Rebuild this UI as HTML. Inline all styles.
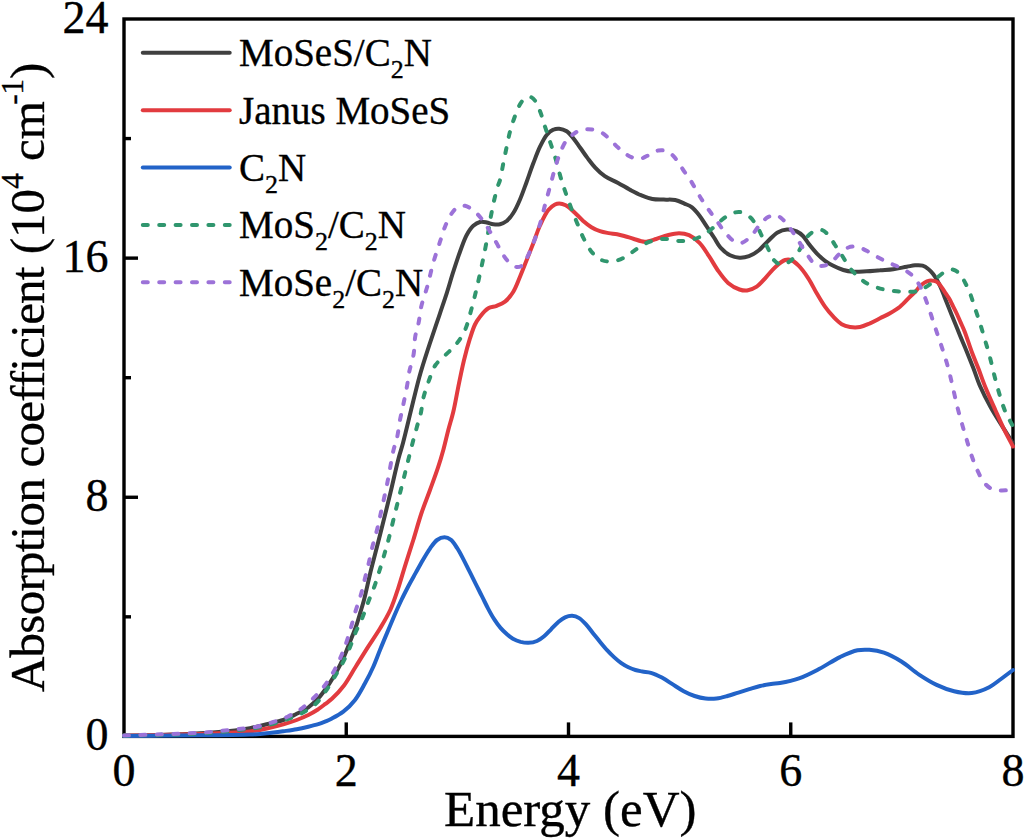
<!DOCTYPE html>
<html><head><meta charset="utf-8"><style>html,body{margin:0;padding:0;background:#fff;}svg{display:block;}</style></head>
<body><svg width="1025" height="840" viewBox="0 0 1025 840">
<rect width="1025" height="840" fill="#fff"/>
<rect x="124" y="19" width="889" height="717.4" fill="none" stroke="#000" stroke-width="3.4"/>
<g stroke="#000" stroke-width="3.4"><line x1="124" y1="497.27" x2="138" y2="497.27"/><line x1="124" y1="258.13" x2="138" y2="258.13"/><line x1="124" y1="616.83" x2="131" y2="616.83"/><line x1="124" y1="377.70" x2="131" y2="377.70"/><line x1="124" y1="138.57" x2="131" y2="138.57"/><line x1="346.25" y1="736.4" x2="346.25" y2="722.4"/><line x1="568.50" y1="736.4" x2="568.50" y2="722.4"/><line x1="790.75" y1="736.4" x2="790.75" y2="722.4"/></g>
<path d="M124.0,735.6 C136.0,735.4 147.7,735.4 160.0,735.0 C173.0,734.6 187.1,734.1 200.0,733.3 C212.1,732.6 225.8,731.5 235.0,730.5 C241.1,729.8 244.9,729.3 250.0,728.3 C255.4,727.2 261.1,725.6 266.7,724.2 C272.2,722.8 278.1,721.8 283.3,720.0 C288.1,718.3 292.4,715.9 296.7,713.8 C300.7,711.8 304.6,710.2 308.3,707.5 C312.4,704.5 316.5,700.4 320.0,696.4 C323.5,692.4 326.6,687.6 329.5,683.3 C332.2,679.3 334.4,675.6 336.7,671.4 C339.2,666.9 341.5,662.2 343.8,657.1 C346.3,651.5 348.7,645.0 351.0,639.3 C353.1,634.0 355.2,628.7 356.9,623.8 C358.3,619.6 359.3,615.9 360.5,611.9 C361.7,607.9 362.7,604.8 364.0,600.0 C365.9,592.7 368.1,582.0 370.5,572.0 C373.3,560.5 376.8,547.8 380.0,535.0 C383.4,521.4 387.3,506.0 390.5,492.6 C393.4,480.5 396.2,467.3 398.6,458.2 C400.2,452.1 401.4,449.1 403.0,443.0 C405.4,434.0 408.5,420.6 411.2,409.6 C413.9,398.7 416.5,387.4 419.3,377.2 C421.9,367.9 424.6,359.5 427.4,350.9 C430.1,342.6 433.2,333.5 435.5,326.6 C437.2,321.5 438.4,318.2 440.0,313.3 C442.0,307.3 444.5,300.1 446.7,293.3 C449.0,286.3 451.0,278.7 453.3,271.7 C455.5,264.9 457.7,258.0 460.0,251.7 C462.2,245.8 464.2,239.6 466.7,235.0 C468.7,231.3 470.8,228.0 473.3,225.8 C475.3,224.0 477.7,222.5 480.0,222.0 C482.2,221.5 484.5,222.1 486.7,222.5 C488.9,222.9 491.1,223.9 493.3,224.2 C495.5,224.5 497.8,224.7 500.0,224.2 C502.3,223.7 504.6,222.6 506.7,221.0 C509.1,219.1 511.3,216.2 513.3,213.0 C515.8,209.2 517.9,204.4 520.0,199.5 C522.4,194.0 524.5,187.7 526.7,181.7 C528.9,175.6 531.0,169.3 533.3,163.3 C535.5,157.6 537.6,151.7 540.0,146.7 C542.1,142.4 544.2,138.0 546.7,135.0 C548.7,132.6 551.0,130.7 553.3,129.7 C555.2,128.8 557.1,128.5 559.2,128.7 C561.6,128.9 564.4,129.8 566.7,131.3 C569.2,132.9 571.2,135.7 573.3,138.3 C575.6,141.1 577.7,144.3 580.0,147.5 C582.5,150.9 585.0,154.7 587.6,158.1 C590.1,161.4 592.4,164.6 595.2,167.6 C598.1,170.7 601.2,173.7 604.8,176.2 C608.7,178.9 613.9,180.6 618.1,182.9 C622.1,185.1 625.7,187.4 629.5,189.5 C633.3,191.5 637.1,193.6 641.0,195.2 C644.8,196.7 648.6,198.3 652.4,199.0 C656.2,199.7 660.0,199.4 663.8,199.6 C667.6,199.8 671.6,199.3 675.2,200.0 C678.6,200.7 681.9,202.5 684.8,203.8 C687.4,204.9 689.8,205.6 692.0,207.3 C694.5,209.2 696.7,212.1 699.0,215.0 C701.6,218.3 704.0,222.5 706.5,226.2 C709.0,230.0 711.6,233.8 714.0,237.5 C716.3,241.0 717.8,244.7 720.5,247.6 C723.2,250.6 726.6,253.5 730.0,255.2 C733.0,256.7 736.3,257.5 739.5,257.7 C742.7,257.9 745.9,257.3 749.0,256.2 C752.3,255.0 755.5,252.9 758.6,250.5 C761.9,247.9 764.9,244.0 768.1,241.0 C771.2,238.0 774.2,234.3 777.6,232.4 C780.6,230.7 783.9,229.7 787.1,229.5 C790.3,229.3 793.9,230.2 796.7,231.4 C799.2,232.5 801.1,234.1 803.0,236.0 C805.0,238.0 806.3,240.7 808.3,243.3 C810.7,246.4 813.8,250.3 816.7,253.3 C819.4,256.1 822.1,258.7 825.0,260.8 C827.7,262.8 830.3,264.3 833.3,265.8 C836.4,267.4 839.9,269.0 843.3,270.0 C846.6,271.0 849.7,271.5 853.3,271.7 C857.4,272.0 862.2,271.5 866.7,271.3 C871.1,271.1 875.6,270.6 880.0,270.3 C884.4,269.9 888.9,269.8 893.3,269.2 C897.8,268.6 902.8,267.4 906.7,266.7 C909.8,266.2 912.3,265.5 915.0,265.3 C917.6,265.1 920.3,264.9 922.6,265.6 C924.7,266.2 926.6,267.6 928.3,269.0 C930.1,270.4 931.7,272.2 933.1,274.0 C934.5,275.8 935.7,277.7 936.9,279.8 C938.2,282.1 939.5,284.7 940.7,287.4 C942.0,290.4 943.2,293.7 944.5,296.9 C945.8,300.1 947.0,303.2 948.3,306.4 C949.6,309.6 950.8,312.8 952.1,316.0 C953.4,319.2 954.7,322.3 956.0,325.5 C957.3,328.8 958.5,331.8 960.0,335.5 C961.9,340.2 964.5,346.1 966.7,351.5 C968.9,356.9 971.1,362.4 973.3,368.0 C975.6,373.9 977.3,379.8 980.0,386.0 C983.0,392.9 987.1,400.8 990.7,407.2 C993.8,412.8 997.0,417.8 1000.0,422.6 C1002.7,427.0 1005.5,431.2 1007.8,435.0 C1009.7,438.1 1011.3,440.7 1013.0,443.5" fill="none" stroke="#404040" stroke-width="4" stroke-linecap="round" stroke-linejoin="round"/><path d="M124.0,735.8 C149.3,735.2 179.5,734.7 200.0,734.0 C213.9,733.5 225.8,733.0 235.0,732.5 C241.0,732.2 244.9,732.1 250.0,731.5 C255.4,730.8 261.2,729.7 266.7,728.5 C272.3,727.3 278.1,725.9 283.3,724.4 C288.0,723.0 292.4,721.6 296.7,720.0 C300.7,718.5 304.6,716.8 308.3,715.0 C311.8,713.2 315.3,711.1 318.3,709.2 C320.8,707.5 322.8,705.9 325.0,704.2 C327.3,702.4 329.4,701.1 331.9,698.8 C335.5,695.5 340.0,690.7 343.8,685.7 C348.0,680.1 351.7,673.0 355.7,666.7 C359.7,660.3 363.6,653.9 367.6,647.6 C371.7,641.2 376.1,634.9 380.0,628.5 C383.8,622.2 387.5,616.1 390.5,609.5 C393.5,602.8 395.7,595.9 398.1,588.6 C400.7,580.7 403.1,572.0 405.7,563.8 C408.2,555.8 410.7,548.2 413.3,540.0 C416.0,531.3 418.6,521.6 421.5,513.0 C424.2,505.0 427.2,497.7 430.0,490.0 C432.8,482.3 436.0,473.8 438.3,466.7 C440.3,460.7 441.7,455.8 443.3,450.0 C445.0,443.7 446.6,436.5 448.3,430.0 C449.9,423.8 451.8,418.1 453.3,411.7 C455.0,404.6 456.2,397.2 457.8,389.3 C459.6,380.4 461.7,369.8 463.8,361.0 C465.7,353.1 467.8,345.3 469.9,338.7 C471.6,333.4 473.1,328.4 475.0,324.5 C476.5,321.4 478.0,319.2 480.0,316.7 C482.3,313.8 485.3,310.1 488.3,308.3 C490.9,306.7 494.0,306.9 496.7,305.8 C499.5,304.7 502.4,303.7 505.0,301.7 C508.0,299.3 510.9,295.6 513.3,291.7 C516.0,287.4 517.8,281.9 520.0,276.7 C522.3,271.3 524.5,265.6 526.7,260.0 C528.9,254.4 531.1,249.0 533.3,243.3 C535.5,237.5 537.4,231.1 540.0,225.5 C542.5,220.1 545.3,213.7 548.3,210.0 C550.4,207.4 552.9,205.6 555.0,204.5 C556.5,203.7 557.7,203.4 559.3,203.4 C561.2,203.4 563.5,204.1 565.7,205.2 C568.5,206.7 571.5,209.7 574.3,212.2 C577.2,214.8 580.0,218.1 582.9,220.7 C585.7,223.1 588.5,225.4 591.4,227.2 C594.2,228.9 597.1,230.2 600.0,231.2 C602.8,232.2 605.7,232.6 608.6,233.1 C611.5,233.6 614.4,233.8 617.2,234.3 C619.9,234.8 622.4,235.5 625.0,236.2 C627.7,236.9 630.3,237.9 633.3,238.7 C636.8,239.7 641.0,241.7 644.8,241.7 C648.6,241.7 652.4,240.1 656.2,239.0 C660.0,237.9 663.8,236.2 667.6,235.2 C671.4,234.3 675.3,233.3 679.0,233.3 C682.4,233.3 685.8,233.8 689.0,235.2 C692.6,236.8 696.3,239.7 699.5,242.9 C703.1,246.5 705.9,251.6 709.0,256.2 C712.3,261.1 715.3,266.8 718.6,271.4 C721.6,275.6 724.5,279.8 728.1,282.9 C731.5,285.8 736.0,288.3 739.5,289.5 C742.2,290.4 744.5,290.8 747.1,290.5 C750.2,290.1 753.7,288.7 756.7,286.7 C760.1,284.4 763.1,280.4 766.2,277.1 C769.4,273.7 772.4,269.6 775.7,266.7 C778.7,264.0 782.3,260.9 785.2,260.0 C787.3,259.3 789.0,259.3 791.0,260.0 C793.5,260.8 796.1,263.2 798.6,265.7 C801.9,268.9 805.3,273.8 808.3,278.3 C811.4,283.0 813.9,288.5 816.7,293.3 C819.4,297.9 822.1,302.7 825.0,306.7 C827.6,310.4 830.4,313.7 833.3,316.7 C836.0,319.5 838.7,322.5 841.7,324.2 C844.3,325.7 847.1,326.5 850.0,327.0 C853.1,327.5 856.7,327.6 860.0,327.0 C863.4,326.4 866.7,324.7 870.0,323.3 C873.4,321.8 876.7,320.0 880.0,318.3 C883.3,316.6 886.7,315.2 890.0,313.3 C893.4,311.3 896.8,309.3 900.0,306.7 C903.5,303.9 907.2,299.4 910.0,296.7 C911.9,294.8 913.4,293.8 915.0,292.1 C916.7,290.4 918.1,288.0 919.8,286.4 C921.3,284.9 922.8,283.6 924.5,282.6 C926.0,281.7 927.7,281.0 929.3,280.7 C930.8,280.4 932.5,280.6 934.0,280.9 C935.4,281.2 936.7,281.7 937.9,282.6 C939.3,283.7 940.5,285.7 941.7,287.4 C943.0,289.2 944.2,291.2 945.5,293.1 C946.8,295.0 948.1,296.7 949.3,298.8 C950.6,301.1 951.8,303.9 953.1,306.4 C954.4,308.9 955.7,311.4 956.9,314.0 C958.2,316.8 959.4,319.7 960.7,322.6 C962.0,325.5 963.1,327.7 964.5,331.2 C966.6,336.5 969.3,345.2 971.7,351.7 C973.9,357.5 976.1,362.6 978.3,368.3 C980.7,374.5 982.8,380.9 985.5,387.5 C988.5,394.8 992.3,403.2 995.4,410.2 C998.1,416.3 1000.3,421.5 1003.1,427.3 C1006.1,433.6 1009.7,440.1 1013.0,446.5" fill="none" stroke="#e23b3f" stroke-width="4" stroke-linecap="round" stroke-linejoin="round"/><path d="M124.0,735.9 C149.3,735.7 177.3,735.5 200.0,735.3 C218.4,735.1 237.8,735.2 250.0,734.6 C257.1,734.3 261.1,733.9 266.7,733.3 C272.2,732.8 278.1,732.0 283.3,731.3 C288.0,730.6 292.4,730.0 296.7,729.2 C300.7,728.5 304.6,727.6 308.3,726.7 C311.8,725.9 315.3,725.1 318.3,724.2 C320.8,723.4 322.8,722.6 325.0,721.7 C327.1,720.8 328.7,720.2 331.0,719.0 C334.4,717.2 339.4,714.7 343.3,711.7 C347.5,708.5 351.5,704.5 355.0,700.0 C358.8,695.1 361.9,688.9 365.0,683.3 C368.0,677.8 370.8,672.3 373.3,666.7 C375.8,661.2 377.7,655.6 380.0,650.0 C382.3,644.3 384.7,638.6 387.1,632.9 C389.5,627.2 391.9,621.3 394.3,615.7 C396.6,610.3 399.0,605.1 401.4,600.0 C403.7,595.1 406.2,590.3 408.6,585.7 C410.9,581.3 413.3,577.2 415.7,572.9 C418.1,568.6 420.5,564.1 422.9,560.0 C425.2,556.1 427.5,552.1 430.0,548.6 C432.3,545.4 434.4,541.9 437.1,540.0 C439.3,538.4 442.1,537.3 444.5,537.3 C446.7,537.3 449.0,538.3 451.0,539.8 C453.4,541.6 455.2,545.2 457.2,548.2 C459.4,551.5 461.3,555.3 463.3,559.1 C465.4,563.1 467.4,567.3 469.5,571.4 C471.6,575.5 473.6,579.7 475.7,583.8 C477.8,587.9 479.8,592.1 481.9,596.2 C484.0,600.3 486.0,604.6 488.1,608.6 C490.1,612.4 492.1,616.1 494.3,619.4 C496.3,622.5 498.3,625.4 500.5,627.9 C502.5,630.2 504.6,632.2 506.7,634.1 C508.7,635.9 510.6,637.5 512.9,638.8 C515.2,640.1 518.0,641.2 520.6,641.9 C523.1,642.5 525.7,642.9 528.4,642.8 C531.2,642.7 534.4,642.1 537.0,641.0 C539.6,639.9 541.8,638.2 544.1,636.3 C546.5,634.3 548.8,631.6 551.1,629.3 C553.4,626.9 555.7,624.3 558.1,622.2 C560.4,620.3 562.6,618.4 565.1,617.3 C567.4,616.3 569.9,615.7 572.2,615.8 C574.6,615.9 577.0,616.8 579.2,618.1 C581.7,619.6 584.0,622.2 586.2,624.6 C588.6,627.2 590.9,630.5 593.2,633.4 C595.6,636.3 597.9,639.3 600.3,642.2 C602.6,645.0 604.9,647.8 607.3,650.4 C609.6,652.9 611.9,655.2 614.3,657.4 C616.6,659.5 618.9,661.5 621.3,663.2 C623.6,664.8 626.0,666.2 628.4,667.3 C630.7,668.4 633.0,669.3 635.4,670.0 C637.7,670.7 639.9,671.0 642.4,671.5 C645.1,672.0 647.9,671.9 650.9,672.8 C654.4,673.8 658.3,675.7 661.9,677.6 C665.6,679.6 669.2,682.1 672.8,684.4 C676.4,686.7 680.0,689.2 683.7,691.2 C687.3,693.1 690.9,694.8 694.6,696.0 C698.2,697.2 701.9,698.1 705.6,698.5 C709.2,698.9 712.9,698.9 716.5,698.5 C720.2,698.1 723.8,697.0 727.4,696.0 C731.1,695.0 734.7,693.7 738.4,692.6 C742.0,691.5 745.7,690.3 749.3,689.2 C752.9,688.1 756.5,686.9 760.2,686.0 C763.8,685.1 767.6,684.5 771.1,684.0 C774.2,683.5 776.5,683.6 780.0,683.0 C785.2,682.1 792.7,680.6 799.0,678.4 C805.8,676.0 812.7,672.3 819.5,668.8 C826.4,665.2 833.3,660.3 840.0,657.1 C846.0,654.3 852.2,651.4 857.5,650.3 C861.7,649.4 865.2,649.5 869.3,649.8 C873.9,650.2 878.9,651.0 883.9,652.7 C889.6,654.7 895.7,658.0 901.4,661.5 C907.4,665.2 913.0,670.6 919.0,674.6 C924.8,678.4 930.6,682.1 936.6,684.9 C942.3,687.6 948.2,689.9 954.1,691.3 C959.9,692.6 965.9,693.7 971.7,693.1 C977.6,692.4 984.1,689.8 989.2,687.2 C993.7,684.9 997.1,681.8 1001.0,679.0 C1005.0,676.1 1009.0,673.0 1013.0,670.0" fill="none" stroke="#2263c8" stroke-width="4" stroke-linecap="round" stroke-linejoin="round"/><path d="M124.0,735.6 C149.3,734.9 179.5,734.7 200.0,733.5 C213.9,732.7 224.7,731.6 235.0,730.5 C243.1,729.6 250.1,729.0 256.7,727.8 C262.4,726.8 267.3,725.4 272.5,724.0 C277.6,722.6 282.6,721.0 287.5,719.2 C292.3,717.4 297.2,715.7 301.7,713.3 C306.3,710.8 311.1,708.0 315.0,704.5 C318.8,701.1 321.7,696.8 324.8,692.5 C328.1,687.9 331.3,682.4 334.3,677.4 C337.2,672.6 340.0,668.0 342.6,663.1 C345.2,658.1 347.6,652.8 349.8,647.6 C352.0,642.5 353.6,637.1 355.7,632.1 C357.8,627.2 360.3,622.7 362.3,617.9 C364.3,613.2 365.7,608.6 367.6,603.6 C369.7,598.2 372.3,592.2 374.3,586.7 C376.2,581.5 377.6,576.6 379.2,571.5 C380.8,566.4 382.3,561.4 383.8,556.2 C385.4,550.7 386.9,545.8 388.6,539.2 C391.0,530.1 393.9,517.6 396.6,506.8 C399.3,496.0 402.0,485.1 404.7,474.4 C407.3,463.9 410.2,452.0 412.5,443.3 C414.1,437.0 415.5,432.2 416.9,427.0 C418.2,422.2 419.7,418.1 420.8,413.3 C421.9,408.2 422.2,402.8 423.5,397.4 C425.0,391.5 427.3,384.8 429.4,379.2 C431.3,374.1 432.7,369.1 435.5,365.0 C438.2,361.1 442.2,358.3 445.6,354.9 C449.0,351.5 452.6,348.6 455.7,344.8 C459.1,340.6 462.3,336.0 464.8,330.6 C467.6,324.5 469.2,317.0 471.2,310.0 C473.2,302.9 475.0,295.2 476.7,288.3 C478.2,282.0 479.4,276.2 480.8,270.0 C482.2,263.5 483.7,256.5 485.0,250.0 C486.2,243.8 487.3,237.5 488.3,231.7 C489.2,226.5 489.9,221.8 490.8,216.7 C491.8,211.3 493.0,205.2 494.2,200.0 C495.3,195.4 496.4,190.6 497.5,187.0 C498.3,184.3 499.2,182.9 500.0,180.0 C501.2,175.7 502.2,168.9 503.3,163.3 C504.4,157.8 505.6,152.1 506.7,146.7 C507.8,141.6 508.7,136.5 510.0,131.7 C511.2,127.1 512.6,122.7 514.2,118.3 C515.7,114.0 517.2,109.3 519.2,105.8 C520.9,102.8 522.8,99.7 525.0,98.3 C526.8,97.2 529.1,96.5 530.8,97.0 C532.7,97.5 534.3,99.6 535.8,101.7 C537.8,104.6 539.3,109.3 540.8,113.3 C542.4,117.6 543.5,122.1 545.0,126.7 C546.6,131.6 548.3,136.7 550.0,141.7 C551.7,146.7 553.3,151.1 555.0,156.7 C557.1,163.6 559.4,173.4 561.4,180.0 C562.9,185.0 564.2,188.4 565.7,192.9 C567.4,197.7 569.2,202.8 571.1,207.9 C573.1,213.2 575.3,218.7 577.5,223.9 C579.6,229.0 581.4,234.1 583.9,238.9 C586.4,243.7 589.3,249.3 592.5,252.9 C595.1,255.9 598.2,258.4 601.1,259.8 C603.6,261.0 606.0,261.4 608.6,261.5 C611.4,261.6 614.5,261.1 617.2,260.4 C619.8,259.7 622.2,258.6 624.7,257.2 C627.5,255.7 630.2,253.5 633.3,251.4 C636.9,249.0 640.8,245.7 644.8,243.8 C648.5,242.0 652.4,240.8 656.2,240.0 C660.0,239.2 663.8,238.8 667.6,239.0 C671.4,239.2 675.2,240.8 679.0,241.0 C682.8,241.2 686.8,240.8 690.5,240.0 C694.2,239.2 698.0,237.9 701.4,236.2 C704.8,234.4 707.9,232.0 711.0,229.5 C714.3,226.9 717.3,223.6 720.5,221.0 C723.6,218.5 726.7,215.8 730.0,214.3 C733.0,212.9 736.4,211.7 739.5,212.0 C742.7,212.3 746.2,214.1 749.0,216.2 C752.0,218.5 754.5,222.3 756.7,225.7 C759.0,229.2 760.5,233.3 762.4,237.1 C764.3,240.9 766.2,244.8 768.1,248.6 C770.0,252.4 771.3,257.2 773.8,260.0 C775.9,262.3 778.8,264.5 781.4,264.8 C783.9,265.0 786.6,263.4 789.0,261.9 C791.8,260.1 794.6,257.0 796.7,254.3 C798.7,251.8 799.9,249.2 801.5,246.5 C803.2,243.6 804.6,240.0 806.7,237.5 C808.6,235.2 810.8,232.9 813.3,231.7 C815.8,230.5 819.2,229.4 821.7,230.0 C824.2,230.6 826.3,232.8 828.3,235.0 C830.8,237.6 832.8,241.7 835.0,245.0 C837.2,248.3 839.4,251.4 841.7,255.0 C844.4,259.1 847.0,264.5 850.0,268.3 C852.6,271.6 855.4,274.1 858.3,276.7 C861.0,279.1 863.6,281.5 866.7,283.3 C869.8,285.1 873.3,286.4 876.7,287.5 C880.0,288.6 883.3,289.4 886.7,290.0 C890.0,290.6 893.4,291.0 896.7,291.3 C900.0,291.6 903.4,291.7 906.7,291.7 C910.0,291.7 914.0,291.9 916.7,291.3 C918.7,290.9 919.9,290.1 921.7,289.2 C924.2,288.0 927.3,286.2 930.0,284.2 C932.9,282.1 935.5,279.0 938.3,276.7 C941.0,274.5 943.9,271.9 946.7,270.8 C948.9,269.9 951.2,269.2 953.3,269.7 C955.6,270.2 958.1,272.2 960.0,274.2 C962.1,276.4 963.4,279.5 965.0,282.5 C966.8,285.8 968.4,289.4 970.0,293.3 C971.8,297.8 973.3,303.3 975.0,308.3 C976.7,313.3 978.4,318.2 980.0,323.3 C981.7,328.7 983.4,334.4 985.0,340.0 C986.7,345.8 988.4,351.4 990.0,357.5 C991.7,364.0 993.3,371.4 995.0,378.0 C996.6,384.2 998.2,390.2 1000.0,396.0 C1001.7,401.5 1003.2,406.7 1005.4,411.8 C1007.6,416.9 1010.5,421.6 1013.0,426.5" fill="none" stroke="#30966e" stroke-width="4" stroke-linecap="round" stroke-linejoin="round" stroke-dasharray="5 11.4"/><path d="M124.0,735.5 C149.3,734.6 179.5,734.1 200.0,732.8 C213.9,731.9 224.7,730.6 235.0,729.5 C243.1,728.6 250.2,728.0 256.7,726.7 C262.2,725.6 266.7,724.1 271.7,722.5 C276.9,720.8 282.5,719.0 287.5,716.7 C292.2,714.5 296.6,712.2 300.8,709.2 C305.2,706.1 309.4,702.1 313.3,698.3 C317.0,694.6 320.4,691.0 323.6,686.9 C327.0,682.5 330.3,677.5 333.1,672.6 C335.8,667.9 338.0,663.2 340.2,658.3 C342.4,653.3 344.4,648.1 346.2,642.9 C348.0,637.8 349.4,632.7 351.0,627.4 C352.6,621.9 354.0,616.2 355.7,610.7 C357.4,605.2 359.5,599.7 361.0,594.3 C362.5,589.1 363.5,584.1 364.8,579.0 C366.1,573.9 367.4,569.0 368.6,563.8 C369.9,558.3 371.0,552.4 372.4,546.7 C373.8,541.0 375.7,535.0 377.1,529.5 C378.4,524.4 379.1,520.7 380.4,514.9 C382.3,506.2 385.2,493.3 387.4,482.5 C389.6,471.7 391.6,458.3 393.5,450.1 C394.7,445.1 396.0,442.5 397.0,438.0 C398.2,432.6 398.9,425.7 400.0,420.0 C401.0,414.9 402.0,410.7 403.1,405.5 C404.4,399.4 406.0,391.7 407.1,385.7 C408.0,380.7 408.2,376.8 409.2,372.0 C410.3,366.5 412.6,360.2 413.6,354.3 C414.6,348.5 414.3,342.2 415.2,336.7 C416.0,331.8 417.6,327.7 418.6,322.9 C419.7,317.6 420.0,312.1 421.3,306.3 C422.8,299.8 425.4,293.2 427.4,286.1 C429.5,278.4 431.3,269.7 433.5,262.0 C435.5,254.9 438.0,248.0 440.0,241.7 C441.8,236.3 443.0,231.5 445.0,226.7 C446.9,222.0 449.2,216.8 451.7,213.3 C453.7,210.5 455.9,207.9 458.3,206.7 C460.4,205.7 462.8,205.4 465.0,205.8 C467.3,206.2 469.6,207.8 471.7,209.2 C474.0,210.8 476.2,212.8 478.3,215.0 C480.6,217.4 483.0,220.5 485.0,223.3 C486.9,226.0 488.2,228.7 490.0,231.7 C492.1,235.2 494.5,239.4 496.7,243.3 C498.9,247.2 500.9,251.5 503.3,255.0 C505.4,258.1 507.5,261.2 510.0,263.3 C512.1,265.0 514.6,266.7 516.7,267.0 C518.4,267.2 520.2,266.8 521.7,265.8 C523.7,264.4 525.0,261.3 526.7,258.3 C528.9,254.2 531.2,248.7 533.3,243.3 C535.7,237.3 538.0,230.4 540.0,224.0 C541.9,217.7 543.3,211.3 545.0,205.0 C546.7,198.8 548.3,192.8 550.0,186.7 C551.7,180.6 553.2,174.1 555.0,168.3 C556.6,163.0 558.0,158.1 560.0,153.3 C561.9,148.7 564.1,143.3 566.7,140.0 C568.7,137.4 571.0,135.9 573.3,134.2 C575.5,132.6 577.6,131.0 580.0,130.2 C582.5,129.4 585.1,129.1 588.0,129.2 C591.4,129.3 595.6,129.8 599.0,131.2 C602.5,132.7 605.5,135.5 608.6,138.1 C611.9,140.9 614.9,144.7 618.1,147.6 C621.2,150.4 624.1,153.3 627.6,155.2 C631.1,157.1 635.4,159.1 639.0,159.0 C642.4,158.9 645.4,156.6 648.6,155.2 C651.8,153.8 654.8,151.1 658.1,150.5 C661.2,149.9 664.8,150.2 667.6,151.4 C670.5,152.7 672.8,155.4 675.2,158.1 C678.0,161.3 680.3,165.8 682.9,169.5 C685.4,173.1 687.9,176.3 690.3,180.0 C692.9,184.0 695.3,188.8 697.8,193.0 C700.2,197.1 702.5,200.8 705.2,204.8 C708.1,209.1 711.6,213.7 714.8,218.1 C718.0,222.5 721.0,227.4 724.3,231.4 C727.3,235.0 730.5,239.1 733.8,241.0 C736.3,242.4 738.8,243.4 741.4,242.9 C744.5,242.3 748.0,239.1 751.0,236.2 C754.5,232.9 757.3,227.2 760.5,223.8 C763.0,221.1 765.4,218.6 768.1,217.1 C770.5,215.8 773.3,214.5 775.7,214.9 C778.3,215.3 780.9,217.8 783.3,220.0 C786.1,222.5 788.5,226.1 791.0,229.5 C793.6,233.1 796.1,237.1 798.6,241.0 C801.2,245.1 803.7,249.6 806.5,253.5 C809.2,257.3 811.8,262.3 815.0,264.2 C817.5,265.7 820.6,266.2 823.3,265.8 C826.2,265.4 829.1,263.6 831.7,261.7 C834.7,259.6 837.1,255.7 840.0,253.3 C842.7,251.0 845.4,248.6 848.3,247.5 C851.0,246.5 853.8,246.3 856.7,246.7 C859.9,247.2 863.3,249.1 866.7,250.8 C870.5,252.7 874.4,255.4 878.3,257.5 C882.2,259.6 886.1,261.5 890.0,263.3 C893.9,265.1 898.0,266.3 901.7,268.3 C905.3,270.2 908.9,272.4 911.7,275.0 C914.3,277.4 916.4,280.3 918.3,283.3 C920.3,286.4 921.7,289.7 923.3,293.3 C925.1,297.4 926.7,302.1 928.3,306.7 C930.0,311.5 931.6,316.7 933.3,321.7 C935.0,326.7 936.6,331.7 938.3,336.7 C940.0,341.7 941.7,346.6 943.3,351.7 C945.0,357.1 946.8,362.6 948.3,368.3 C949.9,374.3 951.3,380.6 952.8,387.0 C954.3,393.6 955.8,400.8 957.4,407.2 C958.9,413.1 960.5,418.7 962.1,424.2 C963.6,429.5 965.1,434.5 966.7,439.7 C968.2,444.8 969.7,450.1 971.4,455.1 C973.1,459.9 974.7,464.5 976.8,469.1 C979.0,473.8 981.5,479.5 984.5,483.0 C986.8,485.8 989.5,488.0 992.3,489.2 C994.7,490.3 997.1,490.2 1000.0,490.4 C1003.8,490.6 1008.7,490.1 1013.0,490.0" fill="none" stroke="#9c72d8" stroke-width="4" stroke-linecap="round" stroke-linejoin="round" stroke-dasharray="5 11.4"/>
<g font-family="'Liberation Serif', serif" stroke="#000" stroke-width="0.35" font-size="46" fill="#000"><text x="108.5" y="750.0" text-anchor="end">0</text><text x="108.5" y="510.9" text-anchor="end">8</text><text x="108.5" y="271.7" text-anchor="end">16</text><text x="108.5" y="32.6" text-anchor="end">24</text><text x="124.0" y="786" text-anchor="middle">0</text><text x="346.2" y="786" text-anchor="middle">2</text><text x="568.5" y="786" text-anchor="middle">4</text><text x="790.8" y="786" text-anchor="middle">6</text><text x="1013.0" y="786" text-anchor="middle">8</text></g>
<line x1="142.8" y1="52.8" x2="229.7" y2="52.8" stroke="#404040" stroke-width="4" stroke-linecap="round"/><text x="239" y="66.1" font-family="'Liberation Serif', serif" stroke="#000" stroke-width="0.35" font-size="39">MoSeS/C<tspan font-size="26" dy="12">2</tspan><tspan dy="-12">N</tspan></text><line x1="142.8" y1="110.2" x2="229.7" y2="110.2" stroke="#e23b3f" stroke-width="4" stroke-linecap="round"/><text x="239" y="123.5" font-family="'Liberation Serif', serif" stroke="#000" stroke-width="0.35" font-size="39">Janus MoSeS</text><line x1="142.8" y1="167.5" x2="229.7" y2="167.5" stroke="#2263c8" stroke-width="4" stroke-linecap="round"/><text x="239" y="180.8" font-family="'Liberation Serif', serif" stroke="#000" stroke-width="0.35" font-size="39">C<tspan font-size="26" dy="12">2</tspan><tspan dy="-12">N</tspan></text><line x1="142.8" y1="224.9" x2="229.7" y2="224.9" stroke="#30966e" stroke-width="4" stroke-linecap="round" stroke-dasharray="5 11.4"/><text x="239" y="238.2" font-family="'Liberation Serif', serif" stroke="#000" stroke-width="0.35" font-size="39">MoS<tspan font-size="26" dy="12">2</tspan><tspan dy="-12">/C</tspan><tspan font-size="26" dy="12">2</tspan><tspan dy="-12">N</tspan></text><line x1="142.8" y1="282.2" x2="229.7" y2="282.2" stroke="#9c72d8" stroke-width="4" stroke-linecap="round" stroke-dasharray="5 11.4"/><text x="239" y="295.5" font-family="'Liberation Serif', serif" stroke="#000" stroke-width="0.35" font-size="39">MoSe<tspan font-size="26" dy="12">2</tspan><tspan dy="-12">/C</tspan><tspan font-size="26" dy="12">2</tspan><tspan dy="-12">N</tspan></text>
<text x="444" y="826" font-family="'Liberation Serif', serif" stroke="#000" stroke-width="0.35" font-size="51">Energy (eV)</text>
<text transform="translate(43.5,692) rotate(-90)" font-family="'Liberation Serif', serif" stroke="#000" stroke-width="0.35" font-size="49" textLength="425.5" lengthAdjust="spacing">Absorption coefficient</text><text transform="translate(43.5,254.2) rotate(-90)" font-family="'Liberation Serif', serif" stroke="#000" stroke-width="0.35" font-size="49">(10<tspan font-size="31" dy="-20.5">4</tspan><tspan dy="20.5"> cm</tspan><tspan font-size="31" dy="-20.5" dx="-3.5">-1</tspan><tspan dy="20.5">)</tspan></text>
</svg></body></html>
